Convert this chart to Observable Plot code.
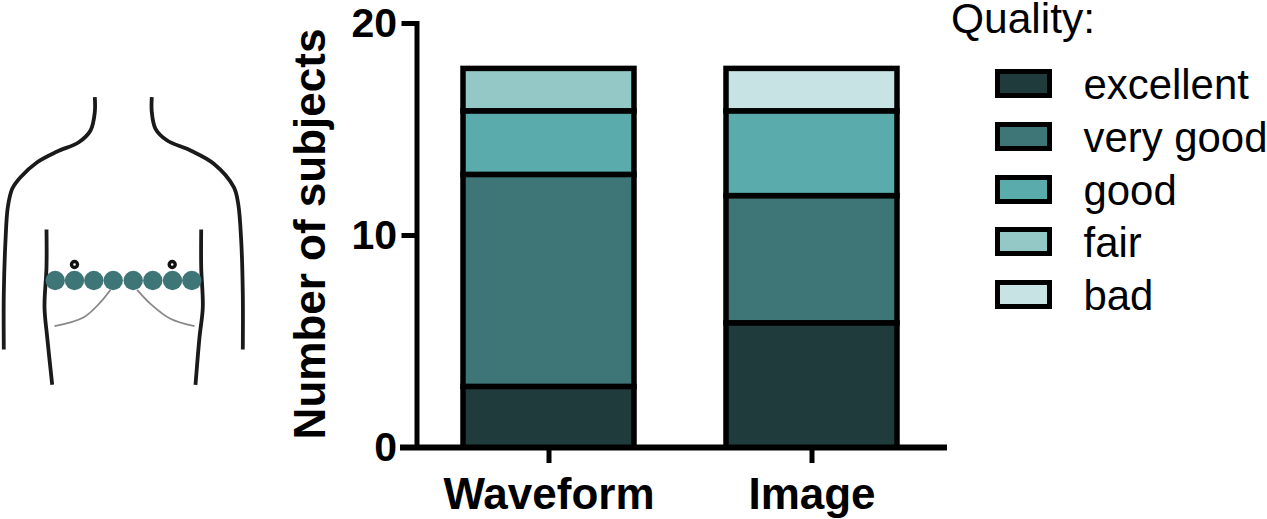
<!DOCTYPE html>
<html>
<head>
<meta charset="utf-8">
<script src="https://cdn.jsdelivr.net/npm/d3@7"></script>
<script src="https://cdn.jsdelivr.net/npm/@observablehq/plot@0.6"></script>
<style>
html,body{margin:0;padding:0;background:#fff;}
#wrap{position:relative;width:1267px;height:519px;overflow:hidden;font-family:"Liberation Sans",Arial,sans-serif;color:#000;}
#wrap svg{position:absolute;left:0;top:0;display:block;background:transparent;}
.legend-row{position:absolute;left:995px;height:29px;width:272px;}
.legend-row i{position:absolute;left:0;top:0;width:47px;height:19px;border:5px solid #000;display:block;}
.legend-row span{position:absolute;left:88.5px;top:-8px;font-size:41.9px;line-height:48px;white-space:nowrap;}
</style>
</head>
<body>
<div id="wrap"></div>
<script>
const methods = ["Waveform", "Image"];
const qualities = ["excellent", "very good", "good", "fair", "bad"];
const colors = ["#1f3b3b", "#3e7577", "#5aabac", "#94c8c7", "#c7e3e3"];
const waveformCounts = [3, 10, 3, 2, 0];
const imageCounts = [6, 6, 4, 0, 2];
const yTicks = [0, 10, 20];
const legendTops = [69, 122, 175, 227, 280];

// torso sketch outlines
const shoulderLeft = [[94.3,96.7],[94.3,111.7],[90,130],[78.3,141.7],[56.7,151],[36.7,161.7],[20,176.7],[11.7,188.3],[7.3,206.7],[5,240],[3.3,293],[3.3,349]];
const shoulderRight = [[151.3,96.7],[151.3,111.7],[155,128.3],[166.7,140],[190,150],[213.3,163.3],[233.3,186.7],[237.7,203.3],[240.7,240],[242.3,293],[242.3,349]];
const sideLeft = [[46,229],[46,266.7],[44,306.7],[46.7,336.7],[51.7,384.3]];
const sideRight = [[200.7,229],[200.7,266.7],[202.3,306.7],[199,336.7],[195,384.3]];
const breastLeft = [[54,325.7],[83.3,316.7],[100,301.7],[110,289.3]];
const breastRight = [[136.7,289.3],[150,303.3],[170,318.3],[194,325.7]];
const electrodes = [54.7,74,93.3,112.7,132.7,152.3,172,191.3].map(x => [x, 280]);
const nipples = [[74,264],[171.7,264]];

const rows = [];
qualities.forEach((q, i) => {
  rows.push({method: methods[0], quality: q, count: waveformCounts[i]});
  rows.push({method: methods[1], quality: q, count: imageCounts[i]});
});

const chart = Plot.plot({
  width: 1267, height: 519,
  marginLeft: 416.5, marginRight: 324.5, marginTop: 23, marginBottom: 72,
  style: {fontFamily: '"Liberation Sans", Arial, sans-serif', background: "transparent", color: "#000", overflow: "visible"},
  x: {domain: methods, paddingInner: 0.35, paddingOuter: 0.175, label: null},
  y: {domain: [0, 20], label: null},
  color: {domain: qualities, range: colors},
  marks: [
    Plot.barY(rows.filter(d => d.count > 0), {
      x: "method", y: "count", fill: "quality", stroke: "#000", strokeWidth: 5.5,
      order: qualities, dy: 3, clip: true
    }),
    Plot.axisY({ticks: yTicks, tickSize: 15, tickPadding: 5, strokeWidth: 5, fontSize: 41, fontWeight: 700, label: null}),
    Plot.text(["Number of subjects"], {frameAnchor: "left", textAnchor: "middle", rotate: -90, dx: -106, dy: -1.5, fontSize: 44, fontWeight: 700, fill: "#000"}),
    Plot.axisX({tickSize: 16, tickPadding: 14, strokeWidth: 5, fontSize: 44, fontWeight: 700, label: null}),
    Plot.frame({anchor: "left", strokeWidth: 5, stroke: "#000"}),
    Plot.ruleY([0], {stroke: "#000", strokeWidth: 6, insetLeft: -16.5, insetRight: -4.5}),
    Plot.text(["Quality:"], {frameAnchor: "top-left", textAnchor: "start", lineAnchor: "top", dx: 534, dy: -21, fontSize: 42.5, fill: "#000"})
  ]
});

const sketchLine = (pts, stroke, w) => Plot.line(pts, {x: d => d[0], y: d => d[1], curve: "catmull-rom", stroke, strokeWidth: w, strokeLinecap: "butt"});
const sketch = Plot.plot({
  width: 260, height: 519, margin: 0,
  style: {background: "transparent"},
  x: {domain: [0, 260], range: [0, 260], axis: null},
  y: {domain: [0, 519], range: [0, 519], axis: null},
  marks: [
    sketchLine(shoulderLeft, "#1a1a1a", 3.8),
    sketchLine(shoulderRight, "#1a1a1a", 3.8),
    sketchLine(sideLeft, "#1a1a1a", 3.8),
    sketchLine(sideRight, "#1a1a1a", 3.8),
    sketchLine(breastLeft, "#888", 1.8),
    sketchLine(breastRight, "#888", 1.8),
    Plot.dot(electrodes, {x: d => d[0], y: d => d[1], r: 9.7, fill: colors[1]}),
    Plot.dot(nipples, {x: d => d[0], y: d => d[1], r: 3, fill: "#fff", stroke: "#111", strokeWidth: 3.4})
  ]
});

const wrap = document.getElementById("wrap");
wrap.append(chart, sketch);

qualities.forEach((q, i) => {
  const row = document.createElement("div");
  row.className = "legend-row";
  row.style.top = legendTops[i] + "px";
  const sw = document.createElement("i");
  sw.style.background = colors[i];
  const label = document.createElement("span");
  label.textContent = q;
  row.append(sw, label);
  wrap.append(row);
});
</script>
</body>
</html>
